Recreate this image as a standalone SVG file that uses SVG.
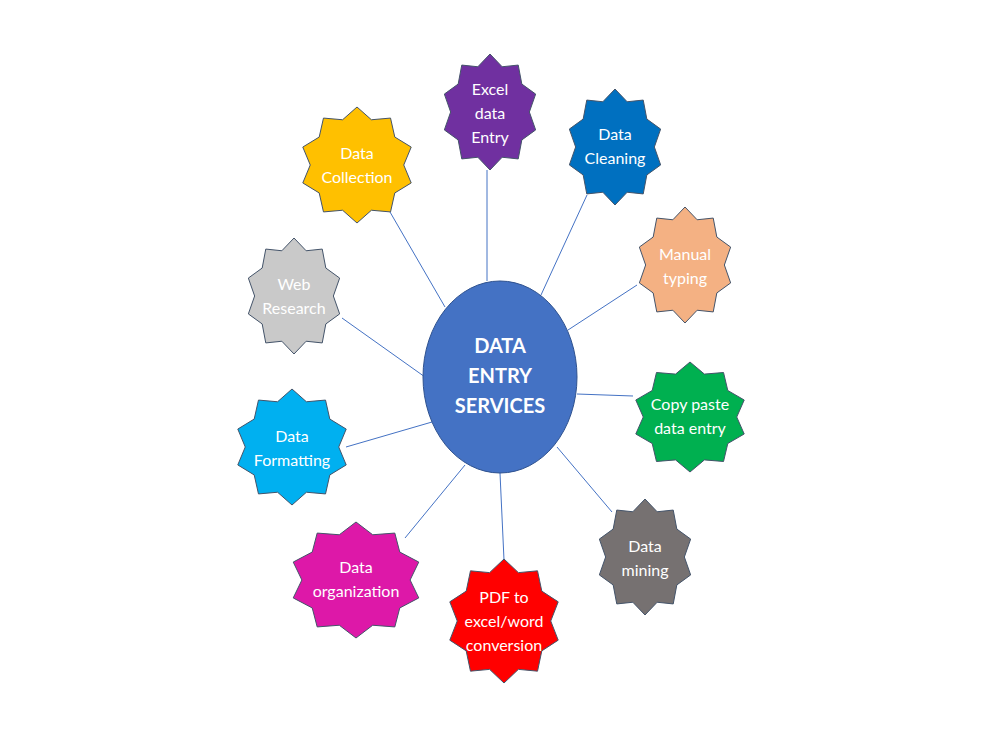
<svg xmlns="http://www.w3.org/2000/svg" width="1000" height="750" viewBox="0 0 1000 750">
<style>
.s{stroke:#44546a;stroke-width:1}
.t{font-family:Lato,"Open Sans",sans-serif;font-size:16px;fill:#fff;text-anchor:middle}
.c{font-family:Lato,"Open Sans",sans-serif;font-size:20px;font-weight:bold;fill:#fff;text-anchor:middle}
line{stroke:#4472c4;stroke-width:1}
</style>
<defs>
<polygon id="star" points="0,-1 0.253,-0.78 0.588,-0.809 0.663,-0.482 0.951,-0.309 0.82,0 0.951,0.309 0.663,0.482 0.588,0.809 0.253,0.78 0,1 -0.253,0.78 -0.588,0.809 -0.663,0.482 -0.951,0.309 -0.82,0 -0.951,-0.309 -0.663,-0.482 -0.588,-0.809 -0.253,-0.78" vector-effect="non-scaling-stroke"/>
</defs>
<rect width="1000" height="750" fill="#fff"/>
<g id="connectors">
<line x1="487" y1="170" x2="487" y2="281"/>
<line x1="587" y1="195" x2="541" y2="295"/>
<line x1="637" y1="285" x2="568" y2="330"/>
<line x1="633" y1="396" x2="577" y2="394"/>
<line x1="612" y1="512" x2="557" y2="447"/>
<line x1="504" y1="560" x2="500" y2="473"/>
<line x1="405" y1="538" x2="465" y2="465"/>
<line x1="346" y1="447" x2="432" y2="422"/>
<line x1="342" y1="318" x2="425" y2="377"/>
<line x1="390" y1="212" x2="445" y2="307"/>
</g>
<g id="center"><ellipse cx="500" cy="377" rx="77" ry="96" fill="#4472c4" stroke="#2f528f"/>
<text class="c" x="500" y="353">DATA</text><text class="c" x="500" y="383">ENTRY</text><text class="c" x="500" y="413">SERVICES</text></g>
<g id="excel"><use href="#star" class="s" fill="#7030a0" transform="translate(490,112) scale(48,58)"/><text class="t" x="490" y="95">Excel</text><text class="t" x="490" y="119">data</text><text class="t" x="490" y="143">Entry</text></g>
<g id="cleaning"><use href="#star" class="s" fill="#0070c0" transform="translate(615,147) scale(48,58)"/><text class="t" x="615" y="140">Data</text><text class="t" x="615" y="164">Cleaning</text></g>
<g id="manual"><use href="#star" class="s" fill="#f4b183" transform="translate(685,265) scale(48,58)"/><text class="t" x="685" y="260">Manual</text><text class="t" x="685" y="284">typing</text></g>
<g id="copy"><use href="#star" class="s" fill="#00b050" transform="translate(690,417) scale(57,55)"/><text class="t" x="690" y="410">Copy paste</text><text class="t" x="690" y="434">data entry</text></g>
<g id="mining"><use href="#star" class="s" fill="#767171" transform="translate(645,557) scale(48,58)"/><text class="t" x="645" y="552">Data</text><text class="t" x="645" y="576">mining</text></g>
<g id="pdf"><use href="#star" class="s" fill="#ff0000" transform="translate(504,621) scale(57,62)"/><text class="t" x="504" y="603">PDF to</text><text class="t" x="504" y="627">excel/word</text><text class="t" x="504" y="651">conversion</text></g>
<g id="organization"><use href="#star" class="s" fill="#dd18a8" transform="translate(356,580) scale(66,58)"/><text class="t" x="356" y="573">Data</text><text class="t" x="356" y="597">organization</text></g>
<g id="formatting"><use href="#star" class="s" fill="#00b0f0" transform="translate(292,447) scale(57,58)"/><text class="t" x="292" y="442">Data</text><text class="t" x="292" y="466">Formatting</text></g>
<g id="web"><use href="#star" class="s" fill="#c9c9c9" transform="translate(294,296) scale(48,58)"/><text class="t" x="294" y="290">Web</text><text class="t" x="294" y="314">Research</text></g>
<g id="collection"><use href="#star" class="s" fill="#ffc000" transform="translate(357,165) scale(57,58)"/><text class="t" x="357" y="159">Data</text><text class="t" x="357" y="183">Collection</text></g>
</svg>
